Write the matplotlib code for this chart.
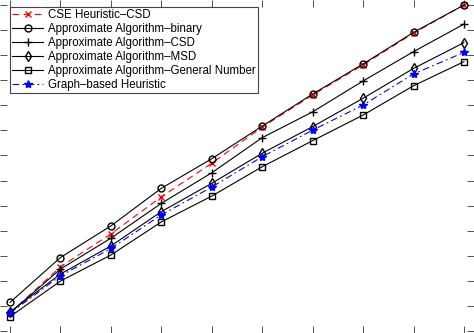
import matplotlib
matplotlib.use("Agg")
import matplotlib.pyplot as plt

plt.rcParams['font.family'] = ['Liberation Sans', 'DejaVu Sans']

# Abscisses (points 1..10)
x = [1, 2, 3, 4, 5, 6, 7, 8, 9, 10]

# Valeurs (unites arbitraires, graduation = 10)
cse_csd = [7.2, 25.6, 38.7, 53.5, 66.9, 81.3, 94.1, 106.1, 118.8, 130.0]
approx_binary = [11.4, 29.3, 41.9, 56.9, 68.7, 81.7, 94.5, 106.5, 119.1, 130.0]
approx_csd = [7.2, 24.7, 37.0, 50.9, 63.1, 77.1, 87.4, 99.7, 111.4, 122.4]
approx_msd = [7.6, 22.7, 33.9, 47.6, 58.9, 70.9, 81.5, 92.8, 104.7, 115.0]
approx_general = [5.7, 19.9, 30.3, 43.5, 53.8, 65.5, 75.9, 86.1, 97.8, 107.4]
graph_heur = [7.1, 22.0, 32.9, 46.3, 57.4, 69.5, 80.1, 90.1, 102.5, 111.1]

labels = ["CSE Heuristic–CSD",
          "Approximate Algorithm–binary",
          "Approximate Algorithm–CSD",
          "Approximate Algorithm–MSD",
          "Approximate Algorithm–General Number",
          "Graph–based Heuristic"]

fig = plt.figure(figsize=(4.74, 3.33), dpi=100)
ax = fig.add_axes([0, 0, 1, 1])

lw = 0.8
ms = 5
ax.plot(x, cse_csd, color='red', ls=(0, (6, 4)), marker='x', ms=ms, lw=lw, label=labels[0])
ax.plot(x, approx_binary, '-', color='black', marker='o', mfc='none', ms=ms, lw=lw, label=labels[1])
ax.plot(x, approx_csd, '-', color='black', marker='+', ms=6, lw=lw, label=labels[2])
ax.plot(x, approx_msd, '-', color='black', marker='d', mfc='none', ms=ms, lw=lw, label=labels[3])
ax.plot(x, approx_general, '-', color='black', marker='s', mfc='none', ms=4.5, lw=lw, label=labels[4])
ax.plot(x, graph_heur, color='blue', ls=(0, (6, 3, 1.5, 3)), marker='*', ms=6, lw=lw, label=labels[5])

ax.set_xlim(0.802, 10.199)
ax.set_ylim(-0.8, 132.0)
ax.set_xticks(x)
ax.set_yticks(range(0, 131, 10))
ax.tick_params(direction='in', length=5, width=0.6, color='#333333',
               top=True, right=True, labelbottom=False, labelleft=False)
for s in ax.spines.values():
    s.set_visible(False)

leg = ax.legend(loc='upper left', bbox_to_anchor=(0.021, 0.979), borderaxespad=0,
                fontsize=8.3, fancybox=False, framealpha=1, edgecolor='#444444',
                handlelength=2.7, handletextpad=0.4, labelspacing=0.17, borderpad=0.18)
leg.get_frame().set_linewidth(0.8)

fig.savefig("out.png", dpi=100)
